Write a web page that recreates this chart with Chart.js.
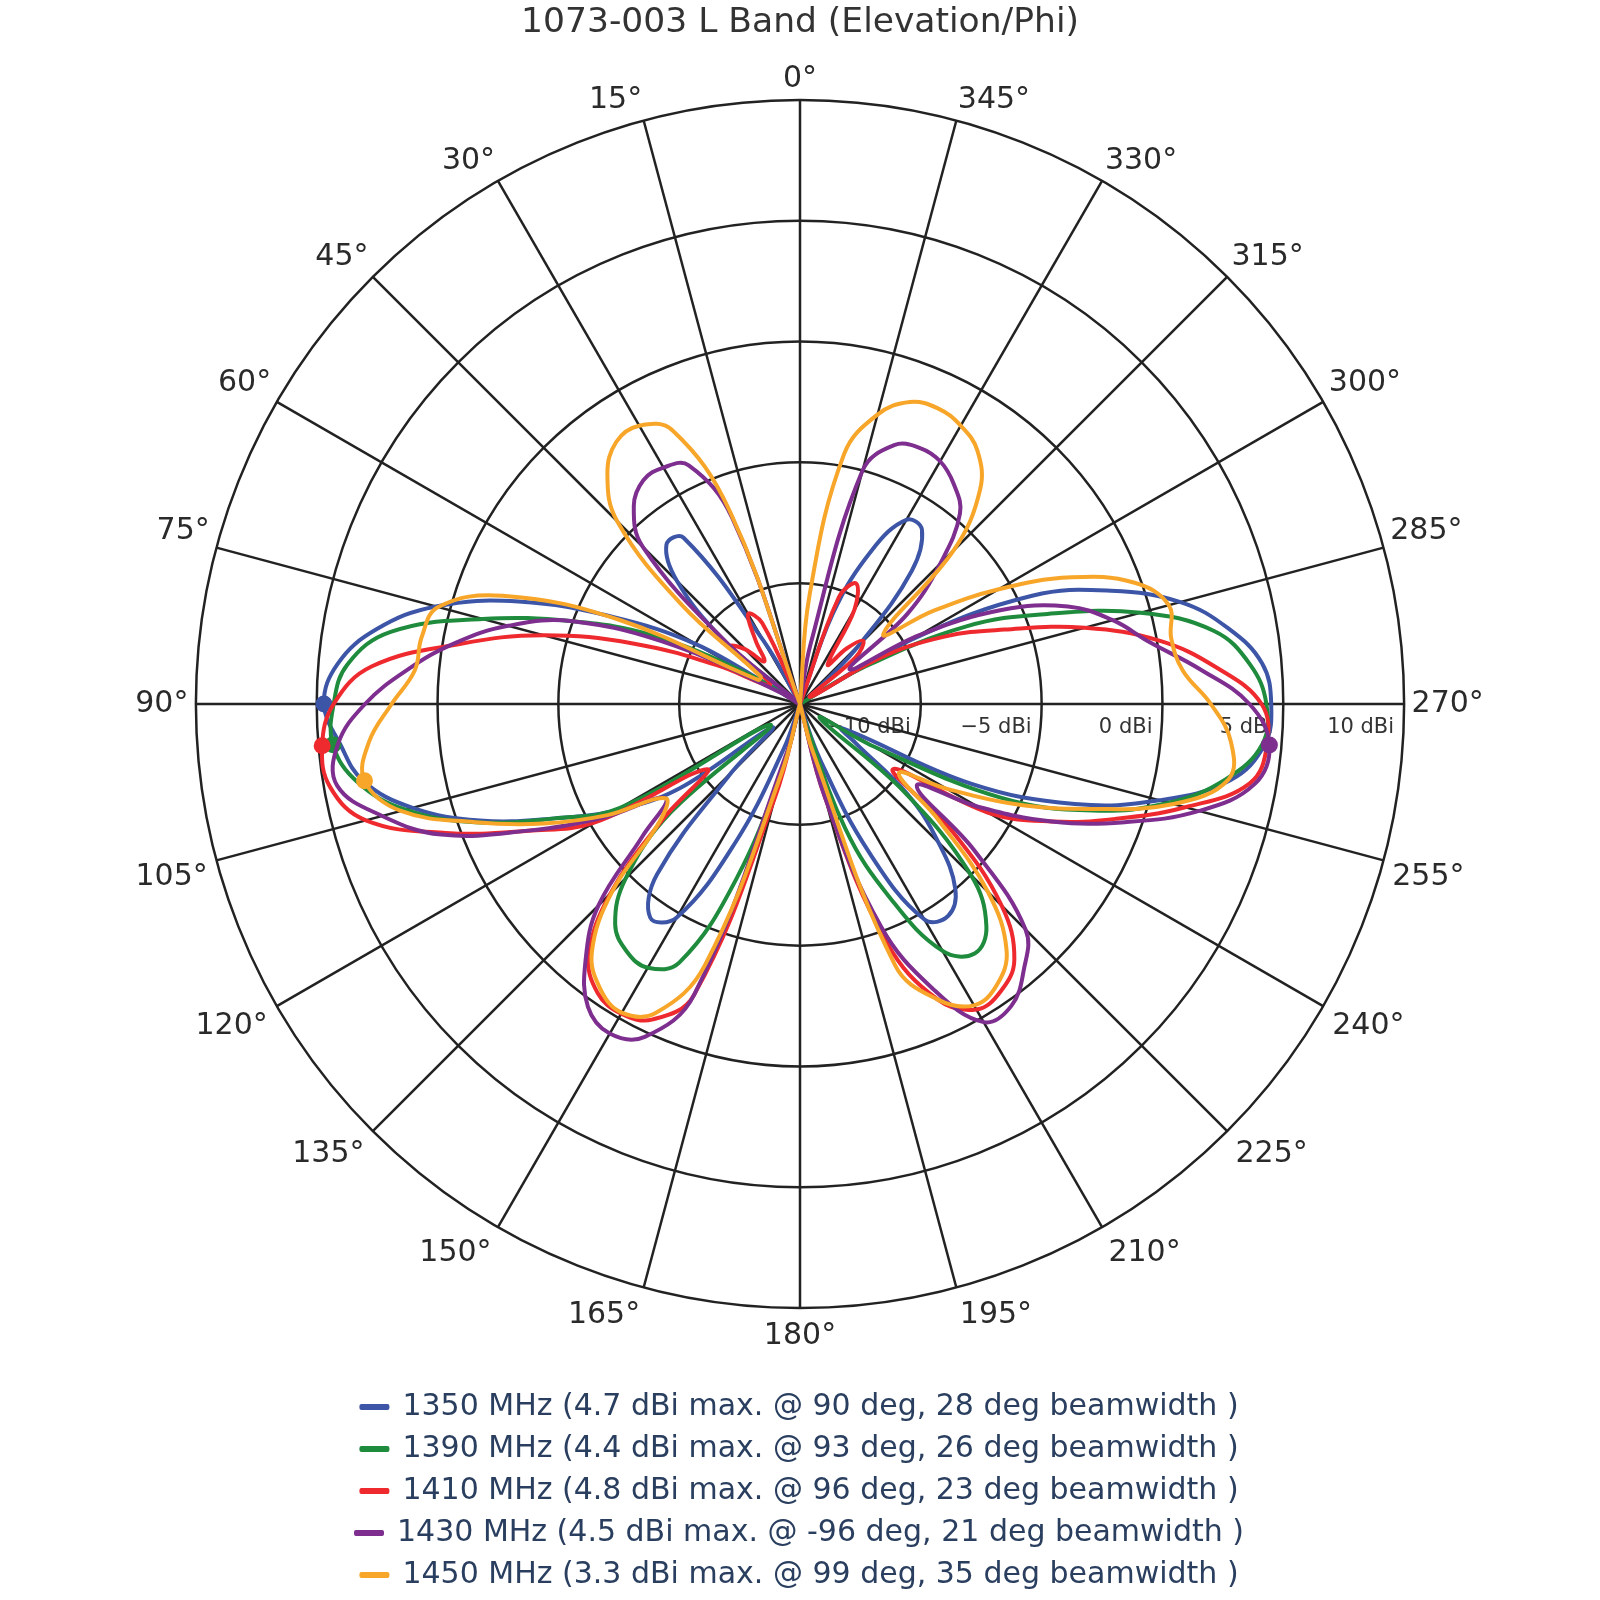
<!DOCTYPE html>
<html>
<head>
<meta charset="utf-8">
<title>1073-003 L Band (Elevation/Phi)</title>
<script src="https://cdn.jsdelivr.net/npm/chart.js@4.4.1/dist/chart.umd.min.js"></script>
<style>
  html, body { margin: 0; padding: 0; background: #ffffff; }
  #wrap { width: 1600px; height: 1600px; }
</style>
</head>
<body>
<div id="wrap"><canvas id="pattern" width="1600" height="1600"></canvas></div>
<script>
// angle of each sample, degrees counter-clockwise from the top
const angleDeg = [
  0, 5, 10, 15, 20, 25, 30, 35, 40, 45, 50, 55,
  60, 65, 70, 75, 80, 85, 90, 95, 100, 105, 110, 115,
  120, 125, 130, 135, 140, 145, 150, 155, 160, 165, 170, 175,
  180, 185, 190, 195, 200, 205, 210, 215, 220, 225, 230, 235,
  240, 245, 250, 255, 260, 265, 270, 275, 280, 285, 290, 295,
  300, 305, 310, 315, 320, 325, 330, 335, 340, 345, 350, 355
];

// gain in dBi, one value per angle above
const gain1350 = [
  -15, -15, -15, -15, -15, -15, -12, -6.6, -6.4, -7.8, -10.8, -14,
  -10.1, -6.5, -2.6, 0.6, 2.8, 4.2, 4.7, 4.1, 3.35, 1.6, -0.9, -3.8,
  -6.2, -8.9, -13.5, -11, -5.8, -4.2, -4.8, -8.7, -13, -15, -15, -15,
  -15, -15, -15, -15, -12.5, -8.2, -4.7, -4.3, -5.0, -6.9, -9.2, -12.2,
  -13, -7.2, -2.9, 0.4, 3.1, 4.3, 4.5, 4.2, 3.0, 1.3, -1.3, -4.4,
  -9.7, -14.5, -14, -11.5, -7.8, -6.2, -6.2, -8.0, -11, -15, -15, -15
];
const gain1390 = [
  -15, -15, -15, -15, -15, -15, -15, -15, -15, -15, -15, -15,
  -12.5, -8.3, -5.0, -1.4, 2.2, 3.8, 4.3, 4.4, 3.6, 1.9, -0.7, -3.8,
  -6.4, -13.5, -8.0, -4.8, -3.1, -2.5, -2.4, -3.2, -7.3, -12.5, -15, -15,
  -15, -15, -15, -14.5, -9.5, -6.1, -3.2, -2.4, -3.0, -5.0, -9.5, -14,
  -11.5, -5.8, -2.1, 0.8, 2.9, 4.2, 4.3, 3.7, 2.4, -0.4, -4.1, -7.4,
  -12, -15, -15, -15, -15, -15, -15, -15, -15, -15, -15, -15
];
const gain1410 = [
  -15, -15, -15, -15, -15, -11.3, -10.7, -11.8, -12.7, -11.8, -11.3, -13.5,
  -13.5, -11.2, -7.7, -4.0, -0.7, 2.8, 4.3, 4.85, 4.75, 3.6, 0.6, -2.6,
  -5.2, -10.3, -7.6, -3.9, -1.4, -0.4, -0.2, -0.6, -2.2, -11, -15, -15,
  -15, -15, -15, -11, -4.5, -1.5, -0.4, -0.5, -1.2, -3.2, -6.7, -10.3,
  -6.0, -3.5, -1.1, 1.5, 3.9, 4.4, 4.1, 2.3, 0.1, -2.8, -6.0, -8.4,
  -11.2, -14.5, -12, -11.3, -12, -13, -10.5, -9.5, -10.3, -15, -15, -15
];
const gain1430 = [
  -15, -15, -15, -15, -6.8, -4.1, -3.7, -3.7, -4.3, -5.8, -11, -15,
  -14, -9.3, -5.0, -2.5, -0.5, 1.3, 3.0, 4.2, 4.45, 2.9, 0.8, -2.6,
  -5.6, -8.2, -6.5, -3.2, -1.2, 0.3, 0.75, 0.2, -2.2, -13, -15, -15,
  -15, -15, -15, -11, -5.2, -2.0, 0.2, 0.25, -0.6, -1.8, -5.6, -9.1,
  -6.5, -3.5, -0.7, 2.1, 4.1, 4.5, 3.6, 1.6, -0.3, -1.6, -3.2, -5.8,
  -9.3, -12.5, -9.2, -6.8, -4.7, -3.9, -3.4, -3.3, -3.6, -5.0, -12.5, -15
];
const gain1450 = [
  -15, -15, -15, -15, -6.5, -2.5, -1.7, -1.75, -2.6, -4.3, -8.6, -13,
  -13, -6.8, -1.9, 0.5, 0.9, 1.0, 1.9, 2.9, 3.3, 2.1, -0.7, -3.3,
  -5.8, -8.2, -7.4, -4.0, -1.6, -0.6, -0.25, -0.9, -3.5, -12, -15, -15,
  -15, -15, -15, -13, -3.5, -1.5, -0.6, -0.8, -1.7, -4.0, -7.5, -10,
  -8.0, -5.2, -2.3, 1.0, 3.0, 2.9, 2.0, 0.9, 0.6, 0.8, -0.3, -2.6,
  -5.5, -8.3, -10.5, -6.0, -3.4, -2.2, -1.7, -1.5, -1.7, -2.6, -4.5, -10.5
];

const seriesNames = [
  '1350 MHz (4.7 dBi max. @ 90 deg, 28 deg beamwidth )',
  '1390 MHz (4.4 dBi max. @ 93 deg, 26 deg beamwidth )',
  '1410 MHz (4.8 dBi max. @ 96 deg, 23 deg beamwidth )',
  '1430 MHz (4.5 dBi max. @ -96 deg, 21 deg beamwidth )',
  '1450 MHz (3.3 dBi max. @ 99 deg, 35 deg beamwidth )'
];
const seriesColors = ['#3c55a6', '#1f8b3d', '#ee2a2f', '#7d2e8e', '#f7a629'];

const angleTicks = [0, 15, 30, 45, 60, 75, 90, 105, 120, 135, 150, 165,
  180, 195, 210, 225, 240, 255, 270, 285, 300, 315, 330, 345];
const radialTicks = [-10, -5, 0, 5, 10];
const radialMin = -15;
const radialMax = 10;

// the radar goes clockwise from the top, the reference counter-clockwise
const n = angleDeg.length;
const order = angleDeg.map((a, j) => (n - j) % n);
const labels = order.map(i => angleTicks.includes(angleDeg[i]) ? angleDeg[i] + '°' : '');

const allGains = [gain1350, gain1390, gain1410, gain1430, gain1450];
const datasets = allGains.map((g, k) => {
  const data = order.map(i => g[i]);
  const peak = data.indexOf(Math.max(...data));
  return {
    label: seriesNames[k],
    data: data,
    borderColor: seriesColors[k],
    backgroundColor: seriesColors[k],
    pointBackgroundColor: seriesColors[k],
    borderWidth: 4,
    fill: false,
    tension: 0.4,
    order: allGains.length - k,
    pointRadius: data.map((v, j) => j === peak ? 8.5 : 0),
    pointBorderWidth: 0,
    pointHoverRadius: 0
  };
});

// dBi labels along the 270 deg spoke, under the grid
const radialLabels = {
  id: 'radialLabels',
  beforeDraw(chart) {
    const s = chart.scales.r;
    const c = chart.ctx;
    c.save();
    c.font = '21px "DejaVu Sans"';
    c.fillStyle = '#333333';
    c.textAlign = 'right';
    c.textBaseline = 'middle';
    radialTicks.forEach(v => {
      const txt = (v < 0 ? '\u2212' + Math.abs(v) : String(v)) + ' dBi';
      c.fillText(txt, s.xCenter + s.getDistanceFromCenterForValue(v) - 10, s.yCenter + 24);
    });
    c.restore();
  }
};

// angle labels sit a little lower than the library puts them
function labelPadding(ctx) {
  const c = Math.cos(angleDeg[order[ctx.index]] * Math.PI / 180);
  return c >= 0 ? 7.5 - 2 * c : 7.5 - 6 * c;
}

Chart.defaults.font.family = '"DejaVu Sans", Verdana, sans-serif';

new Chart(document.getElementById('pattern'), {
  type: 'radar',
  data: { labels: labels, datasets: datasets },
  plugins: [radialLabels],
  options: {
    responsive: false,
    devicePixelRatio: 1,
    animation: false,
    layout: { padding: { left: 66, right: 66, top: 0, bottom: 0 } },
    elements: { line: { borderJoinStyle: 'round' } },
    scales: {
      r: {
        min: radialMin,
        max: radialMax,
        ticks: { display: false, stepSize: 5 },
        grid: { circular: true, color: '#222222', lineWidth: 2.5 },
        angleLines: {
          display: true,
          color: '#222222',
          lineWidth: ctx => ctx.label ? 2.5 : 0
        },
        pointLabels: {
          display: true,
          color: '#2a2a2a',
          padding: labelPadding,
          font: ctx => ({ family: 'DejaVu Sans', size: ctx.label ? 30 : 1, lineHeight: 1 })
        }
      }
    },
    plugins: {
      title: {
        display: true,
        text: '1073-003 L Band (Elevation/Phi)',
        color: '#333333',
        font: { size: 34.5, weight: 'normal' },
        padding: { top: 2, bottom: 17 }
      },
      legend: {
        position: 'bottom',
        title: { display: true, text: '', font: { size: 1 }, padding: { top: 23.2, bottom: 0 } },
        labels: {
          color: '#2a3f5f',
          font: { size: 30 },
          boxWidth: 26,
          boxHeight: 2,
          padding: 12,
          sort: (a, b) => a.datasetIndex - b.datasetIndex
        }
      },
      tooltip: { enabled: false }
    }
  }
});
</script>
</body>
</html>
